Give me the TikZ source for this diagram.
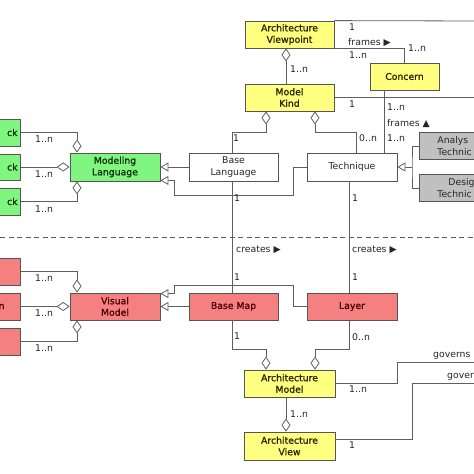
\documentclass[tikz,border=0pt]{standalone}
\usepackage{fontspec}
\setmainfont{DejaVu Sans}
\newfontfamily\semibf[FakeBold=1]{DejaVu Sans}
\usetikzlibrary{arrows.meta}
\definecolor{yel}{RGB}{255,255,128}
\definecolor{grn}{RGB}{128,245,128}
\definecolor{rd}{RGB}{245,128,128}
\definecolor{gry}{RGB}{192,192,192}
\definecolor{edge}{RGB}{85,85,85}
\definecolor{wire}{RGB}{95,95,95}
\definecolor{ytext}{RGB}{40,35,0}
\definecolor{gtext}{RGB}{10,45,10}
\definecolor{rtext}{RGB}{75,0,0}
\tikzset{
  boxbase/.style={draw=edge, line width=0.8pt, minimum height=27pt, minimum width=89pt,
    inner sep=0pt, align=center, font=\fontsize{9.3}{11.5}\selectfont},
  ybox/.style={boxbase, fill=yel, text=ytext, font=\fontsize{9.3}{11.5}\semibf},
  gbox/.style={boxbase, fill=grn, text=gtext, font=\fontsize{9.3}{11.5}\semibf},
  rbox/.style={boxbase, fill=rd, text=rtext, font=\fontsize{9.3}{11.5}\semibf},
  wbox/.style={boxbase, fill=white, text=black!85},
  greybox/.style={boxbase, fill=gry, text=black!85},
  wire/.style={draw=wire, line width=0.8pt},
  dia/.style={wire, -{Diamond[fill=white, length=13pt, width=9pt, line width=0.8pt]}},
  gen/.style={wire, -{Triangle[fill=white, length=8pt, width=9pt, line width=0.8pt]}},
  lab/.style={anchor=west, inner sep=0pt, text=black!85, font=\fontsize{9.3}{11}\selectfont},
}
\begin{document}
\begin{tikzpicture}[x=1pt, y=-1pt]
\useasboundingbox (0,0) rectangle (474,474);
\clip (0,0) rectangle (474,474);
\fill[white] (0,0) rectangle (474,474);

% dashed separator
\draw[draw=wire, line width=0.8pt, dash pattern=on 5pt off 3.5pt] (0,237) -- (474,237);

% nodes
\node[ybox] (AV) at (289.5,34.5) {Architecture\\Viewpoint};
\node[ybox, minimum width=69pt] (C) at (404.5,76.5) {Concern};
\node[ybox] (MK) at (289.5,97.5) {Model\\Kind};
\node[wbox, minimum width=90pt, minimum height=28pt] (T) at (352,167) {Technique};
\node[wbox, minimum height=28pt] (BL) at (233.5,167) {Base\\Language};
\node[gbox, minimum width=90pt, minimum height=28pt] (ML) at (115,167) {Modeling\\Language};
\node[greybox, anchor=west, text width=70pt, inner xsep=18pt, align=left, minimum height=26.5pt] (AT) at (419,146) {Analys\\Technic};
\node[greybox, anchor=west, text width=70pt, inner xsep=18pt, align=left, minimum height=27.5pt] (DT) at (419,188) {\hspace*{11pt}Desig\\Technic};

\node[gbox, anchor=east, minimum width=0pt, text width=60pt, inner xsep=3pt, align=right] (G1) at (21,132.5) {ck};
\node[gbox, anchor=east, minimum width=0pt, text width=60pt, inner xsep=3pt, align=right, minimum height=26pt] (G2) at (21,167) {ck};
\node[gbox, anchor=east, minimum width=0pt, text width=60pt, inner xsep=3pt, align=right] (G3) at (21,201.5) {ck};

\node[rbox, anchor=east, minimum width=80pt] (R1) at (21,271.5) {};
\node[rbox, anchor=east, minimum width=0pt, text width=60pt, inner xsep=16pt, align=right] (R2) at (21,306.5) {n};
\node[rbox, anchor=east, minimum width=80pt] (R3) at (21,341.5) {};

\node[rbox, minimum width=90pt] (VM) at (115,306.5) {Visual\\Model};
\node[rbox] (BM) at (233.5,306.5) {Base Map};
\node[rbox, minimum width=90pt] (L) at (352,306.5) {Layer};
\node[ybox, minimum width=91pt] (AM) at (289.5,383.5) {Architecture\\Model};
\node[ybox, minimum width=91pt, minimum height=28pt] (AW) at (289.5,446) {Architecture\\View};

% free ends at the right edge
\coordinate (eA) at (480,21);
\coordinate (eK) at (480,97.5);
\coordinate (eG1) at (480,362);
\coordinate (eG2) at (480,383.5);
\coordinate (jg) at (412,167);

% connectors (upper part)
\draw[wire] (AV.north east) -- (eA);
\draw[wire] (AV.south east) -| (C.north);
\draw[dia] ([xshift=-3.5pt]MK.north) -- ([xshift=-3.5pt]AV.south);
\draw[wire] (MK.east) -- (eK);
\coordinate (cT) at ([xshift=-20.5pt]C.south);
\draw[wire] (cT) -- (cT |- T.north);
\draw[dia] ([xshift=4pt]T.north) -- ++(0,-20) -| ([xshift=25.5pt]MK.south);
\draw[dia] ([xshift=-1.5pt]BL.north) -- ++(0,-20) -| ([xshift=-23.5pt]MK.south);
\draw[gen] (BL.west) -- (ML.east);
\draw[gen] (T.west) -- ++(-13,0) -- ++(0,28) -- ++(-119,0) |- ([yshift=1pt]ML.south east);
\draw[wire] (AT.west) -| (jg) |- (DT.west);
\draw[gen] (jg) -- (T.east);

\draw[dia] (G1.east) -| ([xshift=-38pt]ML.north);
\draw[dia] (G2.east) -- (ML.west);
\draw[dia] (G3.east) -| ([xshift=-38pt]ML.south);

% connectors (lower part)
\draw[wire] ([xshift=-1.5pt]BL.south) -- ([xshift=-1.5pt]BM.north);
\draw[wire] ([xshift=-3pt]T.south) -- ([xshift=-3pt]L.north);
\draw[dia] ([xshift=-1.5pt]BM.south) -- ++(0,29) -| ([xshift=-23.5pt]AM.north);
\draw[dia] ([xshift=-3pt]L.south) -- ++(0,29) -| ([xshift=25.5pt]AM.north);
\draw[gen] (BM.west) -- (VM.east);
\draw[gen] (L.west) -- ++(-13,0) -- ++(0,-21) -- ++(-119,0) |- ([yshift=-1pt]VM.north east);

\draw[dia] (R1.east) -| ([xshift=-38pt]VM.north);
\draw[dia] (R2.east) -- (VM.west);
\draw[dia] (R3.east) -| ([xshift=-38pt]VM.south);

\draw[dia] ([xshift=-3.5pt]AM.south) -- ([xshift=-3.5pt]AW.north);
\draw[wire] (AM.east) -- ++(62,0) |- (eG1);
\draw[wire] ([yshift=7pt]AW.east) -- ++(77,0) |- (eG2);

% labels
\node[lab] at (349,27) {1};
\node[lab] at (348,42.5) {frames ▶};
\node[lab] at (349,55) {1..n};
\node[lab] at (408,48) {1..n};
\node[lab] at (290,69) {1..n};
\node[lab] at (349,104) {1};
\node[lab] at (387,107) {1..n};
\node[lab] at (387,124) {frames ▲};
\node[lab] at (387,138.5) {1..n};
\node[lab] at (359,138.5) {0..n};
\node[lab] at (233,138.5) {1};
\node[lab] at (234,198) {1};
\node[lab] at (352,198) {1};
\node[lab] at (35,139) {1..n};
\node[lab] at (35,174) {1..n};
\node[lab] at (35,209) {1..n};
\node[lab] at (236,250) {creates ▶};
\node[lab] at (352,250) {creates ▶};
\node[lab] at (234,277) {1};
\node[lab] at (352,277) {1};
\node[lab] at (35,278) {1..n};
\node[lab] at (35,313) {1..n};
\node[lab] at (35,348) {1..n};
\node[lab] at (234,336) {1};
\node[lab] at (352,337) {0..n};
\node[lab] at (349,389) {1..n};
\node[lab] at (433,356) {governs};
\node[lab] at (447,377) {gover};
\node[lab] at (290,414) {1..n};
\node[lab] at (349,445) {1};
\end{tikzpicture}
\end{document}
